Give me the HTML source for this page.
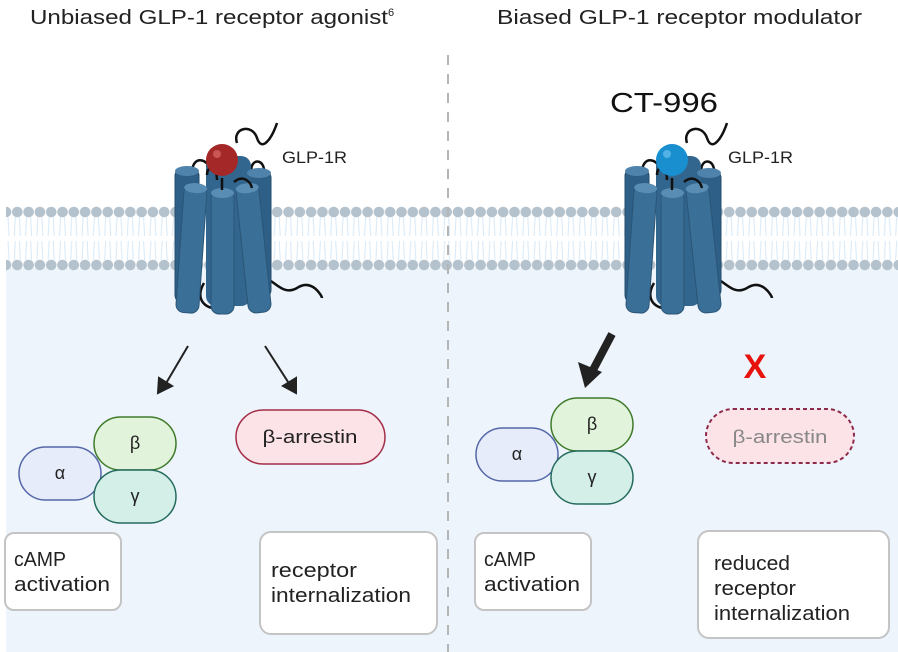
<!DOCTYPE html>
<html><head><meta charset="utf-8"><style>
body{margin:0;background:#fff}
svg{display:block}
text{font-family:"Liberation Sans",sans-serif}
</style></head><body>
<svg width="898" height="652" viewBox="0 0 898 652" xmlns="http://www.w3.org/2000/svg">
<defs>
<pattern id="heads" x="0" y="200" width="11.3" height="75" patternUnits="userSpaceOnUse">
<path d="M4 17 L3 36 M8 17 L9 36 M4 41 L3 60 M8 41 L9 60" stroke="#d6e8f7" stroke-width="1" fill="none"/>
<circle cx="6" cy="12" r="5.3" fill="#b4c2cd"/>
<circle cx="6" cy="65" r="5.3" fill="#b4c2cd"/>
</pattern>
<g id="rec">
<path d="M-18 155 C -30 175, -10 185, 2 178 C 10 175, 12 172, 18 170" stroke="#111" stroke-width="2.5" fill="none"/>
<path d="M35 150 C 50 145, 58 170, 75 160 C 90 150, 100 168, 100 170" stroke="#111" stroke-width="2.5" fill="none"/>
<path d="M-30 45 C -30 25, -10 30, -10 50" stroke="#111" stroke-width="2.5" fill="none"/>
<path d="M30 45 C 25 30, 50 25, 40 60" stroke="#111" stroke-width="2.5" fill="none"/>
<path d="M15 15 C 10 0, 30 -5, 35 10 C 40 25, 50 10, 55 -5" stroke="#111" stroke-width="2.5" fill="none"/>
<rect x="-47" y="40" width="24" height="135" rx="8" fill="#2e5f86" stroke="#244c6c"/>
<rect x="25" y="42" width="24" height="128" rx="8" fill="#2e5f86" stroke="#244c6c"/>
<rect x="-16" y="28" width="45" height="150" rx="10" fill="#33668f"/>
<ellipse cx="-35" cy="43" rx="12" ry="5" fill="#4f83ab"/>
<ellipse cx="37" cy="45" rx="12" ry="5" fill="#4f83ab"/>
<g transform="rotate(4 -30 120)"><rect x="-42" y="57" width="23" height="128" rx="8" fill="#3a6f98" stroke="#2a5576"/><ellipse cx="-30.5" cy="60" rx="11.5" ry="5" fill="#5a8db4"/></g>
<rect x="-11" y="62" width="23" height="124" rx="8" fill="#3a6f98" stroke="#2a5576"/><ellipse cx="0.5" cy="65" rx="11.5" ry="5" fill="#5a8db4"/>
<g transform="rotate(-6 30 120)"><rect x="20" y="57" width="23" height="128" rx="8" fill="#3a6f98" stroke="#2a5576"/><ellipse cx="31.5" cy="60" rx="11.5" ry="5" fill="#5a8db4"/></g>
<path d="M-15 47 C -15 37, -5 37, -5 52" stroke="#111" stroke-width="2.5" fill="none"/>
<path d="M0 62 L0 50" stroke="#111" stroke-width="2.5"/>
<path d="M12 54 C 20 47, 28 52, 30 60" stroke="#111" stroke-width="2.5" fill="none"/>
</g>
</defs>
<rect x="6" y="268" width="892" height="384" fill="#edf4fc"/>
<rect x="6" y="200" width="892" height="75" fill="url(#heads)"/>
<line x1="448" y1="55" x2="448" y2="652" stroke="#b5b5b5" stroke-width="2" stroke-dasharray="10,9"/>
<text x="30" y="24" font-size="20" fill="#222"><tspan textLength="358" lengthAdjust="spacingAndGlyphs">Unbiased GLP-1 receptor agonist</tspan><tspan font-size="11" dy="-8">6</tspan></text>
<text x="497" y="24" font-size="20" fill="#222" textLength="365" lengthAdjust="spacingAndGlyphs">Biased GLP-1 receptor modulator</text>
<text x="610" y="112" font-size="28" fill="#111" textLength="108" lengthAdjust="spacingAndGlyphs">CT-996</text>
<g transform="translate(222,128)"><use href="#rec"/><circle cx="0" cy="32" r="16" fill="#a42828"/><circle cx="-5" cy="26" r="4" fill="#c95555"/></g>
<g transform="translate(672,128)"><use href="#rec"/><circle cx="0" cy="32" r="16" fill="#1a8fcf"/><circle cx="-5" cy="26" r="4" fill="#52b2e6"/></g>
<text x="282" y="163" font-size="17" fill="#222" textLength="65" lengthAdjust="spacingAndGlyphs">GLP-1R</text>
<text x="728" y="163" font-size="17" fill="#222" textLength="65" lengthAdjust="spacingAndGlyphs">GLP-1R</text>
<g stroke="#222" stroke-width="2" fill="#222">
<line x1="188" y1="346" x2="165" y2="385"/><polygon points="158,393 159,378 172,386"/>
<line x1="265" y1="346" x2="290" y2="385"/><polygon points="296,393 283,386 296,378"/>
</g>
<line x1="612" y1="334" x2="593" y2="370" stroke="#222" stroke-width="8"/>
<polygon points="585,388 578,362 602,372" fill="#222"/>
<text x="755" y="378" font-size="34" font-weight="bold" fill="#e8120c" text-anchor="middle">X</text>
<g font-size="18" text-anchor="middle" fill="#222">
<rect x="19" y="447" width="82" height="53" rx="26.5" fill="#e7ecfa" stroke="#5567a8" stroke-width="1.5"/><text x="60" y="479">α</text>
<rect x="94" y="417" width="82" height="53" rx="26.5" fill="#e1f3da" stroke="#3f7a2a" stroke-width="1.5"/><text x="135" y="449">β</text>
<rect x="94" y="470" width="82" height="53" rx="26.5" fill="#d4eee8" stroke="#256b5e" stroke-width="1.5"/><text x="135" y="502">γ</text>
<rect x="236" y="410" width="149" height="54" rx="27" fill="#fbe3e8" stroke="#a42d48" stroke-width="1.5"/><text x="310" y="443" textLength="95" lengthAdjust="spacingAndGlyphs">β-arrestin</text>
<rect x="476" y="428" width="82" height="53" rx="26.5" fill="#e7ecfa" stroke="#5567a8" stroke-width="1.5"/><text x="517" y="460">α</text>
<rect x="551" y="398" width="82" height="53" rx="26.5" fill="#e1f3da" stroke="#3f7a2a" stroke-width="1.5"/><text x="592" y="430">β</text>
<rect x="551" y="451" width="82" height="53" rx="26.5" fill="#d4eee8" stroke="#256b5e" stroke-width="1.5"/><text x="592" y="483">γ</text>
<rect x="706" y="409" width="148" height="54" rx="27" fill="#fbe3e8" stroke="#8e2a4a" stroke-width="2" stroke-dasharray="4,3"/><text x="780" y="443" fill="#888" textLength="95" lengthAdjust="spacingAndGlyphs">β-arrestin</text>
</g>
<g fill="#fff" stroke="#c4c4c4" stroke-width="2">
<rect x="5" y="533" width="116" height="77" rx="9"/>
<rect x="260" y="532" width="177" height="102" rx="11"/>
<rect x="475" y="533" width="116" height="77" rx="9"/>
<rect x="698" y="531" width="191" height="107" rx="11"/>
</g>
<g font-size="20" fill="#222">
<text x="14" y="566" textLength="52" lengthAdjust="spacingAndGlyphs">cAMP</text><text x="14" y="591" textLength="96" lengthAdjust="spacingAndGlyphs">activation</text>
<text x="271" y="577" textLength="86" lengthAdjust="spacingAndGlyphs">receptor</text><text x="271" y="602" textLength="140" lengthAdjust="spacingAndGlyphs">internalization</text>
<text x="484" y="566" textLength="52" lengthAdjust="spacingAndGlyphs">cAMP</text><text x="484" y="591" textLength="96" lengthAdjust="spacingAndGlyphs">activation</text>
<text x="714" y="570" textLength="76" lengthAdjust="spacingAndGlyphs">reduced</text><text x="714" y="595" textLength="82" lengthAdjust="spacingAndGlyphs">receptor</text><text x="714" y="620" textLength="136" lengthAdjust="spacingAndGlyphs">internalization</text>
</g>
</svg>
</body></html>
